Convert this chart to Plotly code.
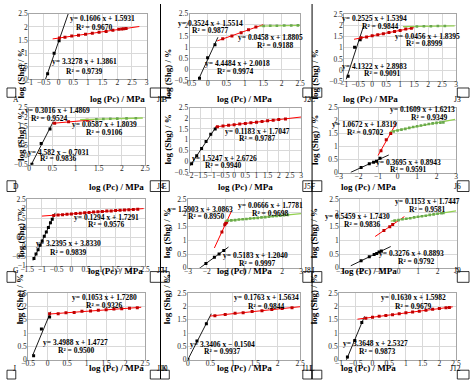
import numpy as np
import plotly.graph_objects as go

W, H = 474, 384

panel_letters = ["A", "B", "C", "D", "E", "F", "G", "H", "I", "J", "K", "L"]
corner_tags = ["J1", "J2", "J3", "J4", "J5", "J6", "J7", "J8", "J9", "J10", "J11", "J12"]

x_ranges = [[-1, 3], [-0.5, 2.5], [-1, 3], [0, 2.5], [-2, 3], [-3, 3],
            [-1.5, 2.5], [-3, 3], [-3, 3], [-0.5, 2.5], [0, 2.5], [-1, 2.5]]
x_dticks = [0.5, 0.5, 0.5, 0.5, 0.5, 1, 0.5, 1, 1, 0.5, 0.5, 0.5]
y_ranges = [[0, 2.5], [-0.5, 2.5], [-0.5, 2.5], [-0.5, 2.5], [-0.5, 2.5], [0, 2.5],
            [-1, 2.5], [0, 2.5], [0, 2.5], [0, 2.5], [0, 2.5], [0, 2.5]]

# ---- black segment (steep / low) ----
black_x = [
    [-0.37, -0.15, 0.02],
    [-0.23, -0.01, 0.19],
    [-0.86, -0.63, -0.43],
    [0.06, 0.26, 0.45],
    [-1.91, -1.68, -1.46, -1.26, -1.05, -0.85],
    [-1.87, -1.45, -1.23, -1.08, -0.9],
    [-1.27, -1.2, -1.13, -1.06, -0.99, -0.92, -0.85, -0.78, -0.71, -0.65],
    [-2.05, -1.6, -1.35, -1.1],
    [-1.92, -1.5, -1.25, -1.12, -1.0, -0.88],
    [-0.36, -0.16, 0.05],
    [0.0, 0.2, 0.41],
    [-0.75, -0.53, -0.32],
]
black_y = [
    [0.22, 1.0, 1.47],
    [-0.40, 0.52, 1.11],
    [-0.28, 1.02, 1.36],
    [-0.47, 0.62, 1.38],
    [-0.12, 0.26, 0.59, 0.92, 1.26, 1.50],
    [0.2, 0.34, 0.40, 0.44, 0.55],
    [-0.62, -0.38, -0.16, 0.08, 0.3, 0.55, 0.78, 1.02, 1.26, 1.45],
    [0.15, 0.38, 0.5, 0.63],
    [0.25, 0.40, 0.48, 0.52, 0.57, 0.61],
    [0.15, 1.15, 1.6],
    [0.0, 0.7, 1.35],
    [0.1, 0.72, 1.4],
]
black_span = [[-0.45, 0.34], [-0.25, 0.27], [-0.93, -0.3], [0.03, 0.52], [-1.98, -0.78],
              [-2.4, -0.45], [-1.3, -0.55], [-2.5, -0.85], [-2.45, -0.4], [-0.38, 0.08],
              [0.0, 0.52], [-0.8, -0.24]]
black_eq = ["y= 3.3278 x + 1.3861", "y= 4.4484 x + 2.0018", "y= 4.1322 x + 2.8983",
            "y= 4.582 x − 0.7031", "y= 1.5247 x + 2.6726", "y= 0.3695 x + 0.8943",
            "y= 3.2395 x + 3.8330", "y= 0.5183 x + 1.2040", "y= 0.3276 x + 0.8893",
            "y= 3.4988 x + 1.4727", "y= 3.3406 x − 0.1504", "y= 3.3648 x + 2.5327"]
black_r2 = ["0.9739", "0.9974", "0.9091", "0.9836", "0.9940", "0.9591",
            "0.9839", "0.9997", "0.9792", "0.9500", "0.9937", "0.9873"]

# ---- red segment ----
red_x = [
    [0.03, 0.22, 0.45, 0.68, 0.92, 1.15, 1.38, 1.62, 1.85, 2.05, 2.15, 2.22, 2.3],
    [0.4, 0.65, 0.9, 1.1, 1.3],
    [-0.4, -0.2, 0.0, 0.2, 0.4, 0.6, 0.8, 1.0, 1.2, 1.4],
    [0.55, 0.85, 1.25],
    [-0.75, -0.5, -0.25, 0, 0.25, 0.5, 0.75, 1.0, 1.25, 1.5, 1.75, 2.0, 2.3],
    [-0.85, -0.58, -0.35],
    [-0.6, -0.45, -0.3, -0.15, 0, 0.15, 0.3, 0.45, 0.6, 0.75, 0.9, 1.05, 1.2, 1.35,
     1.5, 1.65, 1.8, 1.95, 2.1, 2.25],
    [-1.2, -1.05, -1.0, -0.95],
    [-0.75, -0.45, -0.3],
    [0.05, 0.27, 0.47, 0.68, 0.88, 1.1, 1.3, 1.5, 1.7, 1.9, 2.1, 2.3],
    [0.6, 0.83, 1.05, 1.23, 1.43, 1.65, 1.87, 2.1, 2.32],
    [-0.2, 0.0, 0.2, 0.4, 0.6, 0.8, 1.0, 1.2, 1.4, 1.6, 1.8, 2.0, 2.2, 2.3],
]
red_y = [
    [1.58, 1.61, 1.65, 1.68, 1.72, 1.76, 1.80, 1.83, 1.87, 1.91, 1.92, 1.93, 1.94],
    [1.38, 1.5, 1.65, 1.78, 1.9],
    [1.45, 1.49, 1.54, 1.59, 1.63, 1.69, 1.73, 1.78, 1.84, 1.88],
    [1.68, 1.75, 1.83],
    [1.61, 1.64, 1.67, 1.70, 1.73, 1.76, 1.79, 1.82, 1.85, 1.88, 1.91, 1.94, 1.97],
    [0.84, 1.26, 1.5],
    [1.65, 1.67, 1.69, 1.71, 1.73, 1.75, 1.77, 1.79, 1.80, 1.83, 1.84, 1.86, 1.88,
     1.89, 1.91, 1.92, 1.94, 1.95, 1.96, 1.97],
    [1.3, 1.57, 1.62, 1.66],
    [1.36, 1.5, 1.58],
    [1.72, 1.72, 1.76, 1.77, 1.82, 1.83, 1.86, 1.87, 1.9, 1.91, 1.93, 1.95],
    [1.65, 1.7, 1.74, 1.76, 1.81, 1.84, 1.88, 1.92, 1.95],
    [1.56, 1.59, 1.63, 1.66, 1.69, 1.72, 1.76, 1.79, 1.82, 1.86, 1.89, 1.92, 1.95, 1.96],
]
red_span = [[-0.2, 2.75], [0.25, 1.5], [-0.65, 1.5], [0.5, 1.4], [-0.85, 3.0],
            [-1.0, -0.05], [-1.0, 2.45], [-1.6, -0.7], [-1.2, 0.3], [0.03, 2.4],
            [0.49, 2.5], [-0.45, 2.4]]
red_eq = ["y= 0.1606 x + 1.5931", "y= 0.3524 x + 1.5514", "y= 0.2525 x + 1.5394",
          "y= 0.3016 x + 1.4869", "y= 0.1183 x + 1.7047", "y= 1.0672 x + 1.8319",
          "y= 0.1294 x + 1.7291", "y= 1.5903 x + 3.0863", "y= 0.5459 x + 1.7430",
          "y= 0.1053 x + 1.7280", "y= 0.1763 x + 1.5634", "y= 0.1630 x + 1.5982"]
red_r2 = ["0.9670", "0.9877", "0.9844", "0.9524", "0.9787", "0.9702",
          "0.9576", "0.8950", "0.9836", "0.9326", "0.9844", "0.9679"]

# ---- green segment (only in some panels) ----
green_x = [
    None,
    [1.51, 1.69, 1.87, 2.07, 2.26, 2.44],
    [1.6, 1.85, 2.1, 2.35, 2.6],
    [1.45, 1.6, 1.75, 1.9, 2.1, 2.3],
    None,
    [-0.2, 0, 0.2, 0.4, 0.6, 0.8, 1.0, 1.2, 1.4, 1.6, 1.8, 2.0, 2.2, 2.35],
    None,
    [-0.9, -0.7, -0.5, -0.3, -0.1, 0.1, 0.3, 0.5, 0.7, 0.9, 1.1, 1.3, 1.5, 1.7, 1.9, 2.1, 2.3],
    [-0.2, 0, 0.2, 0.4, 0.6, 0.8, 1.0, 1.2, 1.4, 1.6, 1.8, 2.0, 2.2, 2.3],
    None, None, None,
]
green_y = [
    None,
    [1.95, 1.96, 1.96, 1.97, 1.97, 1.98],
    [1.96, 1.97, 1.97, 1.98, 1.98],
    [1.89, 1.9, 1.91, 1.92, 1.93, 1.94],
    None,
    [1.58, 1.62, 1.65, 1.68, 1.72, 1.75, 1.78, 1.81, 1.84, 1.87, 1.89, 1.91, 1.92, 1.93],
    None,
    [1.72, 1.73, 1.74, 1.76, 1.77, 1.78, 1.80, 1.81, 1.82, 1.84, 1.85, 1.86, 1.88, 1.89,
     1.90, 1.92, 1.93],
    [1.72, 1.74, 1.77, 1.79, 1.81, 1.84, 1.86, 1.88, 1.90, 1.93, 1.95, 1.97, 1.99, 2.0],
    None, None, None,
]
green_span = [None, [1.4, 2.5], [1.1, 2.95], [1.1, 2.45], None, [-0.4, 2.95], None,
              [-1.05, 3.0], [-0.4, 2.95], None, None, None]
green_eq = [None, "y= 0.0458 x + 1.8805", "y= 0.0456 x + 1.8395", "y= 0.0587 x + 1.8039",
            None, "y= 0.1609 x + 1.6213", None, "y= 0.0666 x + 1.7781",
            "y= 0.1153 x + 1.7447", None, None, None]
green_r2 = [None, "0.9188", "0.8999", "0.9106", None, "0.9349", None, "0.9698",
            "0.9581", None, None, None]

# ---- layout geometry (pixels) ----
plot_px = [  # left, right, top, bottom
    (22.7, 143.3, 10, 77.3), (187.3, 300.7, 10, 78.3), (346, 460.7, 10.7, 79),
    (22.7, 141.7, 106, 164.7), (187.3, 301.7, 106, 172), (340.7, 460.7, 106, 172.7),
    (20.7, 141.7, 200, 268), (185.7, 301.7, 200, 270), (341.7, 461.7, 200, 270),
    (21.7, 141.7, 296, 364.3), (185.7, 300.7, 296, 364.3), (340.7, 460.7, 296, 364.3),
]
# annotation anchors (data coords): black eq, black r2, red eq, red r2, green eq, green r2
ann_pos = [
    [(0.90, 0.67), (0.90, 0.30), (1.51, 2.31), (1.23, 1.98), None, None],
    [(0.81, 0.27), (0.76, -0.11), (0.06, 2.06), (0.06, 1.74), (1.69, 1.43), (1.82, 1.07)],
    [(0.07, 0.16), (0.36, -0.15), (0.07, 2.31), (0.30, 1.97), (1.99, 1.53), (1.87, 1.18)],
    [(0.64, 0.15), (0.64, -0.19), (0.61, 2.36), (0.43, 1.94), (1.62, 1.6), (1.62, 1.17)],
    [(-0.43, 0.14), (-0.5, -0.2), (1.03, 1.39), (1.03, 1.05), None, None],
    [(0.55, 0.38), (0.55, 0.13), (-1.7, 1.84), (-1.62, 1.56), (1.3, 2.43), (1.63, 2.13)],
    [(-0.09, 0.15), (-0.09, -0.28), (1.18, 1.56), (1.18, 1.18), None, None],
    [(0.59, 0.43), (0.67, 0.15), (-2.34, 2.14), (-2.0, 1.86), (1.36, 2.26), (1.36, 1.98)],
    [(0.67, 0.51), (0.92, 0.24), (-2.08, 1.88), (-1.83, 1.58), (1.5, 2.42), (1.5, 2.14)],
    [(0.71, 0.65), (0.75, 0.34), (1.46, 2.32), (1.46, 2.04), None, None],
    [(0.78, 0.57), (0.78, 0.30), (1.76, 2.32), (1.76, 2.01), None, None],
    [(0.1, 0.61), (0.15, 0.30), (1.22, 2.32), (1.22, 2.01), None, None],
]
col_dividers = [157.5, 313]
row_box_y = [(86, 95.5), (181, 192), (274, 285), (375, 384)]
left_box_x = [(0, 9), (157.5, 166.5), (313, 323)]
right_box_x = [(147, 157.5), (303.5, 313), (462, 474)]
xtitle_y = [90.5, 187, 280.5, 379.5]
ytitle_x = [7, 165, 323]

SERIF = "Liberation Serif"


def px2x(px):
    return px / W


def px2y(py):
    return 1 - py / H


fig = go.Figure()
annotations = []
shapes = []
layout_axes = {}

seg_styles = [
    ("#000000", 0.9, "#000000", 3.0),
    ("#ff0000", 1.0, "#c00000", 3.0),
    ("#92d050", 1.3, "#6aa84f", 2.6),
]

for i in range(12):
    n = "" if i == 0 else str(i + 1)
    xa, ya = "x" + n, "y" + n
    l, r, t, b = plot_px[i]
    layout_axes["xaxis" + n] = dict(
        domain=[px2x(l), px2x(r)], anchor=ya, range=x_ranges[i], dtick=x_dticks[i],
        tick0=0, showgrid=True, gridcolor="#d9d9d9", gridwidth=0.7, zeroline=False,
        showline=True, linecolor="#a6a6a6", linewidth=0.8, mirror=True,
        ticks="", tickangle=0, ticklabelstandoff=-4,
        tickfont=dict(family=SERIF, size=7.5, color="#262626"),
    )
    layout_axes["yaxis" + n] = dict(
        domain=[px2y(b), px2y(t)], anchor=xa, range=y_ranges[i], dtick=0.5,
        tick0=0, showgrid=True, gridcolor="#d9d9d9", gridwidth=0.7, zeroline=False,
        showline=True, linecolor="#a6a6a6", linewidth=0.8, mirror=True,
        ticks="", ticklabelstandoff=-1,
        tickfont=dict(family=SERIF, size=7.5, color="#262626"),
    )
    segs = [
        (black_x[i], black_y[i], black_span[i], black_eq[i], black_r2[i]),
        (red_x[i], red_y[i], red_span[i], red_eq[i], red_r2[i]),
        (green_x[i], green_y[i], green_span[i], green_eq[i], green_r2[i]),
    ]
    for k, (sx, sy, span, eq, r2) in enumerate(segs):
        if sx is None:
            continue
        lc, lw, mc, ms = seg_styles[k]
        slope, icpt = np.polyfit(sx, sy, 1)
        lx = np.array(span, dtype=float)
        ly = slope * lx + icpt
        fig.add_trace(go.Scatter(x=lx, y=ly, mode="lines", xaxis=xa, yaxis=ya,
                                 line=dict(color=lc, width=lw), showlegend=False,
                                 hoverinfo="skip"))
        fig.add_trace(go.Scatter(x=sx, y=sy, mode="markers", xaxis=xa, yaxis=ya,
                                 marker=dict(color=mc, size=ms, symbol="square"),
                                 showlegend=False))
        pe = ann_pos[i][2 * k]
        pr = ann_pos[i][2 * k + 1]
        annotations.append(dict(x=pe[0], y=pe[1], xref=xa, yref=ya, text="<b>" + eq + "</b>",
                                showarrow=False, font=dict(family=SERIF, size=7.5, color="#000")))
        annotations.append(dict(x=pr[0], y=pr[1], xref=xa, yref=ya,
                                text="<b>R² = " + r2 + "</b>",
                                showarrow=False, font=dict(family=SERIF, size=7.5, color="#000")))

    row, col = divmod(i, 3)
    annotations.append(dict(x=px2x((l + r) / 2), y=px2y(xtitle_y[row]), xref="paper", yref="paper",
                            text="<b>log (Pc) / MPa</b>", showarrow=False,
                            font=dict(family=SERIF, size=9, color="#000")))
    annotations.append(dict(x=px2x(ytitle_x[col]), y=px2y((t + b) / 2), xref="paper", yref="paper",
                            text="<b>log (Shg) / %</b>", showarrow=False, textangle=-90,
                            font=dict(family=SERIF, size=9, color="#000")))
    y0, y1 = row_box_y[row]
    for (bx0, bx1), txt in ((left_box_x[col], panel_letters[i]), (right_box_x[col], corner_tags[i])):
        shapes.append(dict(type="rect", xref="paper", yref="paper",
                           x0=px2x(bx0), x1=px2x(bx1), y0=px2y(y1), y1=px2y(y0),
                           line=dict(color="#000", width=0.8), fillcolor="white"))
        annotations.append(dict(x=px2x((bx0 + bx1) / 2), y=px2y((y0 + y1) / 2),
                                xref="paper", yref="paper", text=txt, showarrow=False,
                                font=dict(family=SERIF, size=7.5, color="#000")))

for cx in col_dividers:
    shapes.append(dict(type="line", xref="paper", yref="paper", x0=px2x(cx), x1=px2x(cx),
                       y0=0, y1=1, line=dict(color="#000", width=1)))

fig.update_layout(
    width=W, height=H, autosize=False,
    margin=dict(l=0, r=0, t=0, b=0),
    paper_bgcolor="white", plot_bgcolor="white",
    showlegend=False, annotations=annotations, shapes=shapes,
    **layout_axes,
)

fig.write_html(
    "out.html",
    config={"displayModeBar": False},
    post_script="document.body.style.margin='0';document.body.style.overflow='hidden';",
)
